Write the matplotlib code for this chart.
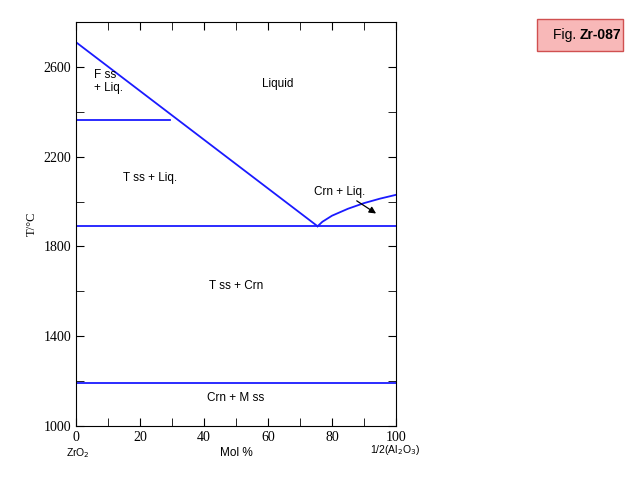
import matplotlib
matplotlib.use("Agg")
import matplotlib.pyplot as plt
from matplotlib.ticker import FixedLocator, MultipleLocator

liq_x = [0, 75.5]
liq_y = [2710, 1890]
crn_x = [75.5, 77, 80, 85, 90, 95, 100]
crn_y = [1890, 1910, 1937, 1968, 1993, 2013, 2030]
eut_y = 1890
fss_y = 2365
fss_x = [0, 29.5]
low_y = 1190

fig = plt.figure(figsize=(6.38, 4.78), dpi=100)
ax = fig.add_axes([76/638, 1-426/478, 320/638, 404/478])
c = "#1a1aff"
ax.plot(liq_x, liq_y, color=c, lw=1.3)
ax.plot(crn_x, crn_y, color=c, lw=1.3)
ax.plot([0, 100], [eut_y, eut_y], color=c, lw=1.3)
ax.plot(fss_x, [fss_y, fss_y], color=c, lw=1.3)
ax.plot([0, 100], [low_y, low_y], color=c, lw=1.3)
ax.set_xlim(0, 100)
ax.set_ylim(1000, 2800)
ax.xaxis.set_major_locator(MultipleLocator(20))
ax.xaxis.set_minor_locator(MultipleLocator(10))
ax.yaxis.set_major_locator(FixedLocator([1000, 1400, 1800, 2200, 2600]))
ax.yaxis.set_minor_locator(FixedLocator([1200, 1600, 2000, 2400]))
ax.tick_params(which="both", direction="in", top=True, right=True, length=6)
for lab in ax.get_xticklabels() + ax.get_yticklabels():
    lab.set_family("Liberation Serif")
    lab.set_fontsize(10)
sf = dict(family="Liberation Sans", fontsize=8.5)
ax.text(5.5, 2590, "F ss\n+ Liq.", va="top", linespacing=1.1, **sf)
ax.text(63, 2510, "Liquid", ha="center", **sf)
ax.text(23, 2090, "T ss + Liq.", ha="center", **sf)
ax.text(82.5, 2030, "Crn + Liq.", ha="center", **sf)
ax.annotate("", xy=(94.5, 1940), xytext=(87, 2010),
            arrowprops=dict(arrowstyle="-|>", color="k", lw=0.9))
ax.text(50, 1610, "T ss + Crn", ha="center", **sf)
ax.text(50, 1110, "Crn + M ss", ha="center", **sf)
ax.set_xlabel("Mol %", fontsize=8.5, family="Liberation Sans", labelpad=2)
ax.set_ylabel("T/°C", fontsize=9, family="Liberation Serif")
fig.text(66/638, 1-453/478, "ZrO$_2$", fontsize=7.5, family="Liberation Sans", va="center")
fig.text(370/638, 1-450/478, "1/2(Al$_2$O$_3$)", fontsize=7.5, family="Liberation Sans", va="center")
fig.text(580/638, 1-35/478, "Fig. ", fontsize=10, ha="right", va="center",
         family="Liberation Sans", color="black")
fig.text(580/638, 1-35/478, "Zr-087", fontsize=10, ha="left", va="center",
         family="Liberation Sans", fontweight="bold")
from matplotlib.patches import Rectangle
fig.patches.append(Rectangle((537/638, 1-51/478), 86/638, 32/478, transform=fig.transFigure,
                             fc="#f8b8b8", ec="#d05050", lw=1, zorder=-1))
fig.savefig("out.png", dpi=100)
